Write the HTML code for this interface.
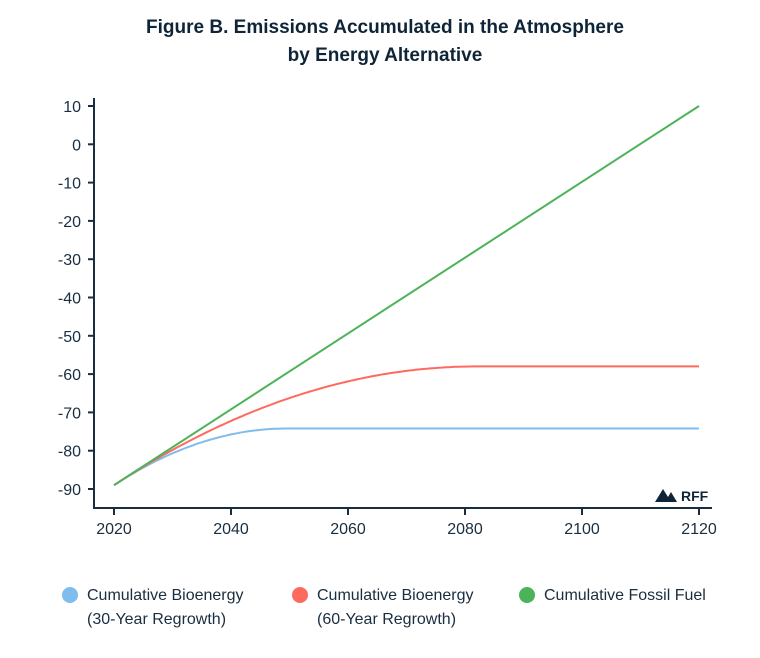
<!DOCTYPE html>
<html><head><meta charset="utf-8"><style>
body{margin:0;background:#fff;width:760px;height:653px;overflow:hidden;font-family:"Liberation Sans",sans-serif;}
</style></head><body>
<svg id="s" width="760" height="653" xmlns="http://www.w3.org/2000/svg" font-family="Liberation Sans, sans-serif">
<text x="385" y="33" text-anchor="middle" font-size="19" font-weight="bold" fill="#0f2537">Figure B. Emissions Accumulated in the Atmosphere</text>
<text x="385" y="61" text-anchor="middle" font-size="19" font-weight="bold" fill="#0f2537">by Energy Alternative</text>
<g id="ax" stroke="#1a2e3f" stroke-width="2" fill="none">
<line x1="94" y1="98" x2="94" y2="508"/>
<line x1="93" y1="508" x2="712" y2="508"/>
</g>
<g id="lab" font-size="16" fill="#1a2e3f"></g>
<g id="ser" fill="none" stroke-width="2"></g>
<path d="M655 502 L663 489 L668 497 L671 492 L677 502 Z" fill="#0f2537"/>
<text x="681" y="501" font-size="14" font-weight="bold" fill="#0f2537">RFF</text>
<g font-size="16" fill="#1a2e3f">
<circle cx="70" cy="595" r="8" fill="#7fbdee"/>
<text x="87" y="600">Cumulative Bioenergy</text>
<text x="87" y="624">(30-Year Regrowth)</text>
<circle cx="300" cy="595" r="8" fill="#ff6a5f"/>
<text x="317" y="600">Cumulative Bioenergy</text>
<text x="317" y="624">(60-Year Regrowth)</text>
<circle cx="527" cy="595" r="8" fill="#4cb35a"/>
<text x="544" y="600">Cumulative Fossil Fuel</text>
</g>
</svg>
<script>
var NS="http://www.w3.org/2000/svg";
function X(y){return 114+(y-2020)*5.85;}
function Y(v){return 144.3-v*3.83;}
var ax=document.getElementById('ax'),lab=document.getElementById('lab'),ser=document.getElementById('ser');
function el(p,t,a){var e=document.createElementNS(NS,t);for(var k in a)e.setAttribute(k,a[k]);p.appendChild(e);return e;}
for(var v=10;v>=-90;v-=10){var y=Y(v);el(ax,'line',{x1:88,y1:y,x2:94,y2:y});var t=el(lab,'text',{x:81,y:y+6,'text-anchor':'end'});t.textContent=v;}
for(var yr=2020;yr<=2120;yr+=20){var x=X(yr);el(ax,'line',{x1:x,y1:508,x2:x,y2:515});var t=el(lab,'text',{x:x,y:534,'text-anchor':'middle'});t.textContent=yr;}
function curve(T,col){var d='';for(var yr=2020;yr<=2120;yr+=0.5){var t=yr-2020;var v=t<T?-89+t-t*t/(2*T):-89+T/2;d+=(d?'L':'M')+X(yr).toFixed(1)+' '+Y(v).toFixed(1);}el(ser,'path',{d:d,stroke:col});}
curve(29.6,'#7fbdee');curve(62,'#ff6a5f');
el(ser,'path',{d:'M'+X(2020)+' '+Y(-89)+'L'+X(2120)+' '+Y(10),stroke:'#4cb35a'});
</script>
</body></html>
